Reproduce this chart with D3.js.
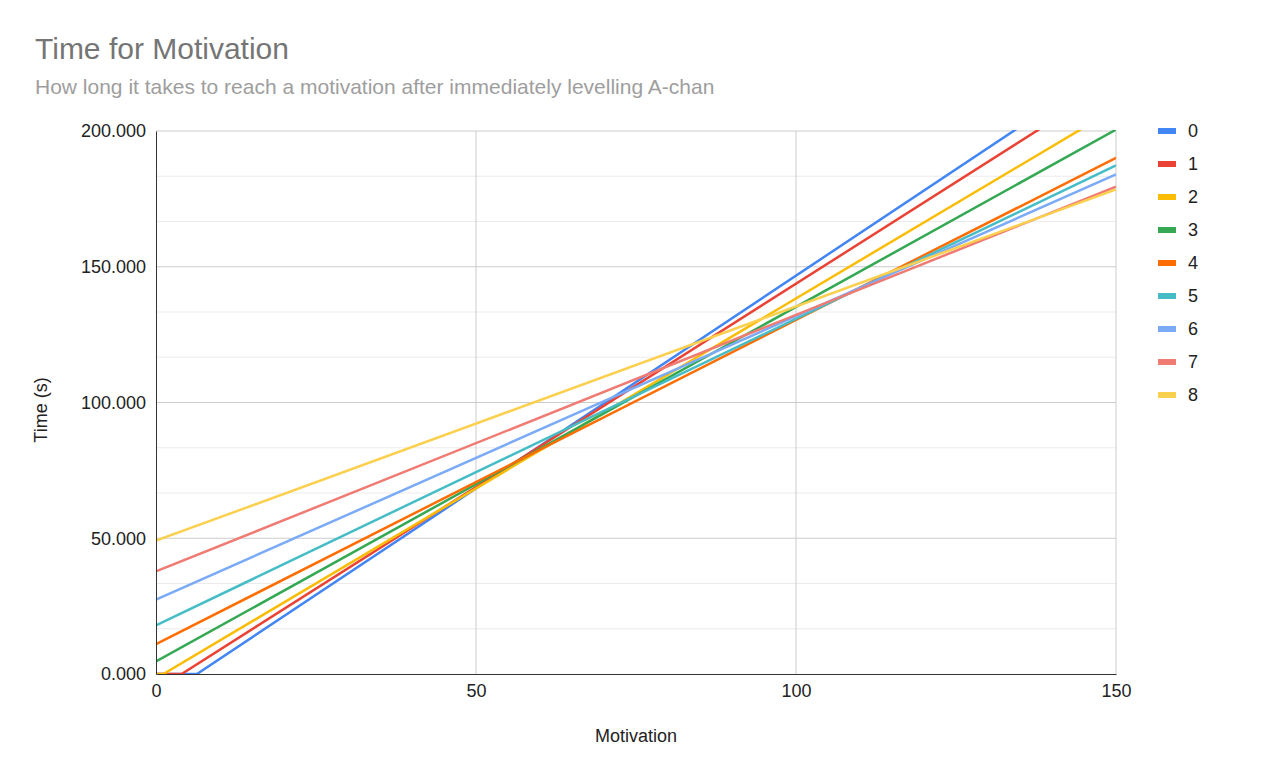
<!DOCTYPE html>
<html>
<head>
<meta charset="utf-8">
<script src="https://cdn.jsdelivr.net/npm/d3@7"></script>
<style>
  body { margin: 0; background: #fff; }
  text { font-family: Arial, "Liberation Sans", sans-serif; }
</style>
</head>
<body>
<svg id="chart"></svg>
<script>
// Series data: motivation -> time, each line clamped at 0
const seriesNames = ["0", "1", "2", "3", "4", "5", "6", "7", "8"];
const seriesColors = ["#4285f4", "#ea4335", "#fbbc04", "#34a853", "#ff6d01",
                      "#46bdc6", "#7baaf7", "#f07b72", "#fcd04f"];
// motivation where each line leaves zero (0 means it starts above zero)
const zeroUntil = [6.4, 4.0, 1.15, 0, 0, 0, 0, 0, 0];
// time at motivation 0 and at motivation 150
const startValues = [0, 0, 0, 4.6, 11.0, 17.9, 27.4, 37.8, 49.1];
const endValues = [225.1, 218.6, 208.3, 200.5, 190.1, 187.3, 184.0, 179.5, 178.5];
const xTicks = [0, 50, 100, 150];
const yTicks = [0, 50, 100, 150, 200];
const yTickLabels = ["0.000", "50.000", "100.000", "150.000", "200.000"];

function makeChart() {
    const width = 1267;
    const height = 772;
    const margin = { top: 131, right: 151, bottom: 98, left: 156 };
    const innerW = width - margin.left - margin.right;
    const innerH = height - margin.top - margin.bottom;

    const svg = d3.select("#chart")
        .attr("width", width)
        .attr("height", height);

    const x = d3.scaleLinear().domain([0, 150]).range([0, innerW]);
    const y = d3.scaleLinear().domain([0, 200]).range([innerH, 0]);

    // Title and subtitle
    svg.append("text")
        .attr("x", 35).attr("y", 59)
        .style("font-size", "30px")
        .style("fill", "#757575")
        .text("Time for Motivation");
    svg.append("text")
        .attr("x", 35).attr("y", 94)
        .style("font-size", "21px")
        .style("fill", "#9e9e9e")
        .text("How long it takes to reach a motivation after immediately levelling A-chan");

    const g = svg.append("g")
        .attr("transform", `translate(${margin.left},${margin.top})`);

    // Minor gridlines (every third of a major step)
    const minor = d3.range(0, 200, 50 / 3).filter((d, i) => i % 3 !== 0);
    g.selectAll(".minor")
        .data(minor)
        .join("line")
        .attr("x1", 0).attr("x2", innerW)
        .attr("y1", d => y(d)).attr("y2", d => y(d))
        .style("stroke", "#ebebeb");

    // Major gridlines
    g.selectAll(".hgrid")
        .data(yTicks.slice(1))
        .join("line")
        .attr("x1", 0).attr("x2", innerW)
        .attr("y1", d => y(d)).attr("y2", d => y(d))
        .style("stroke", "#cccccc");
    g.selectAll(".vgrid")
        .data(xTicks.slice(1))
        .join("line")
        .attr("x1", d => x(d)).attr("x2", d => x(d))
        .attr("y1", 0).attr("y2", innerH)
        .style("stroke", "#cccccc");

    // Lines
    const lines = seriesNames.map((name, i) => {
        const pts = [[0, startValues[i]]];
        if (zeroUntil[i] > 0) pts.push([zeroUntil[i], 0]);
        pts.push([150, endValues[i]]);
        return { name, color: seriesColors[i], pts };
    });

    g.append("clipPath").attr("id", "clip")
        .append("rect")
        .attr("x", 0).attr("y", -1)
        .attr("width", innerW).attr("height", innerH + 1);

    const line = d3.line().x(d => x(d[0])).y(d => y(d[1]));
    g.append("g").attr("clip-path", "url(#clip)")
        .selectAll("path")
        .data(lines)
        .join("path")
        .attr("d", d => line(d.pts))
        .style("fill", "none")
        .style("stroke", d => d.color)
        .style("stroke-width", 2.5);

    // Axes
    const xAxis = g.append("g")
        .attr("transform", `translate(0,${innerH})`)
        .call(d3.axisBottom(x).tickValues(xTicks).tickSize(0).tickPadding(10));
    xAxis.select(".domain").style("stroke", "#333");
    xAxis.selectAll("text").style("font-size", "18px").style("fill", "#222");

    const yAxis = g.append("g")
        .call(d3.axisLeft(y).tickValues(yTicks)
            .tickFormat((d, i) => yTickLabels[i]).tickSize(0).tickPadding(10));
    yAxis.select(".domain").style("stroke", "#333");
    yAxis.selectAll("text").style("font-size", "18px").style("fill", "#222");

    // Axis titles
    svg.append("text")
        .attr("x", 636)
        .attr("y", 742)
        .attr("text-anchor", "middle")
        .style("font-size", "18px")
        .style("fill", "#222")
        .text("Motivation");
    svg.append("text")
        .attr("transform", "translate(47,410) rotate(-90)")
        .attr("text-anchor", "middle")
        .style("font-size", "18px")
        .style("fill", "#222")
        .text("Time (s)");

    // Legend
    const legend = svg.append("g")
        .attr("transform", "translate(1158,131)");
    const item = legend.selectAll("g")
        .data(lines)
        .join("g")
        .attr("transform", (d, i) => `translate(0,${i * 33})`);
    item.append("rect")
        .attr("x", 0).attr("y", -3)
        .attr("width", 18).attr("height", 6)
        .style("fill", d => d.color);
    item.append("text")
        .attr("x", 30).attr("y", 6)
        .style("font-size", "18px")
        .style("fill", "#222")
        .text(d => d.name);
}

makeChart();
</script>
</body>
</html>
